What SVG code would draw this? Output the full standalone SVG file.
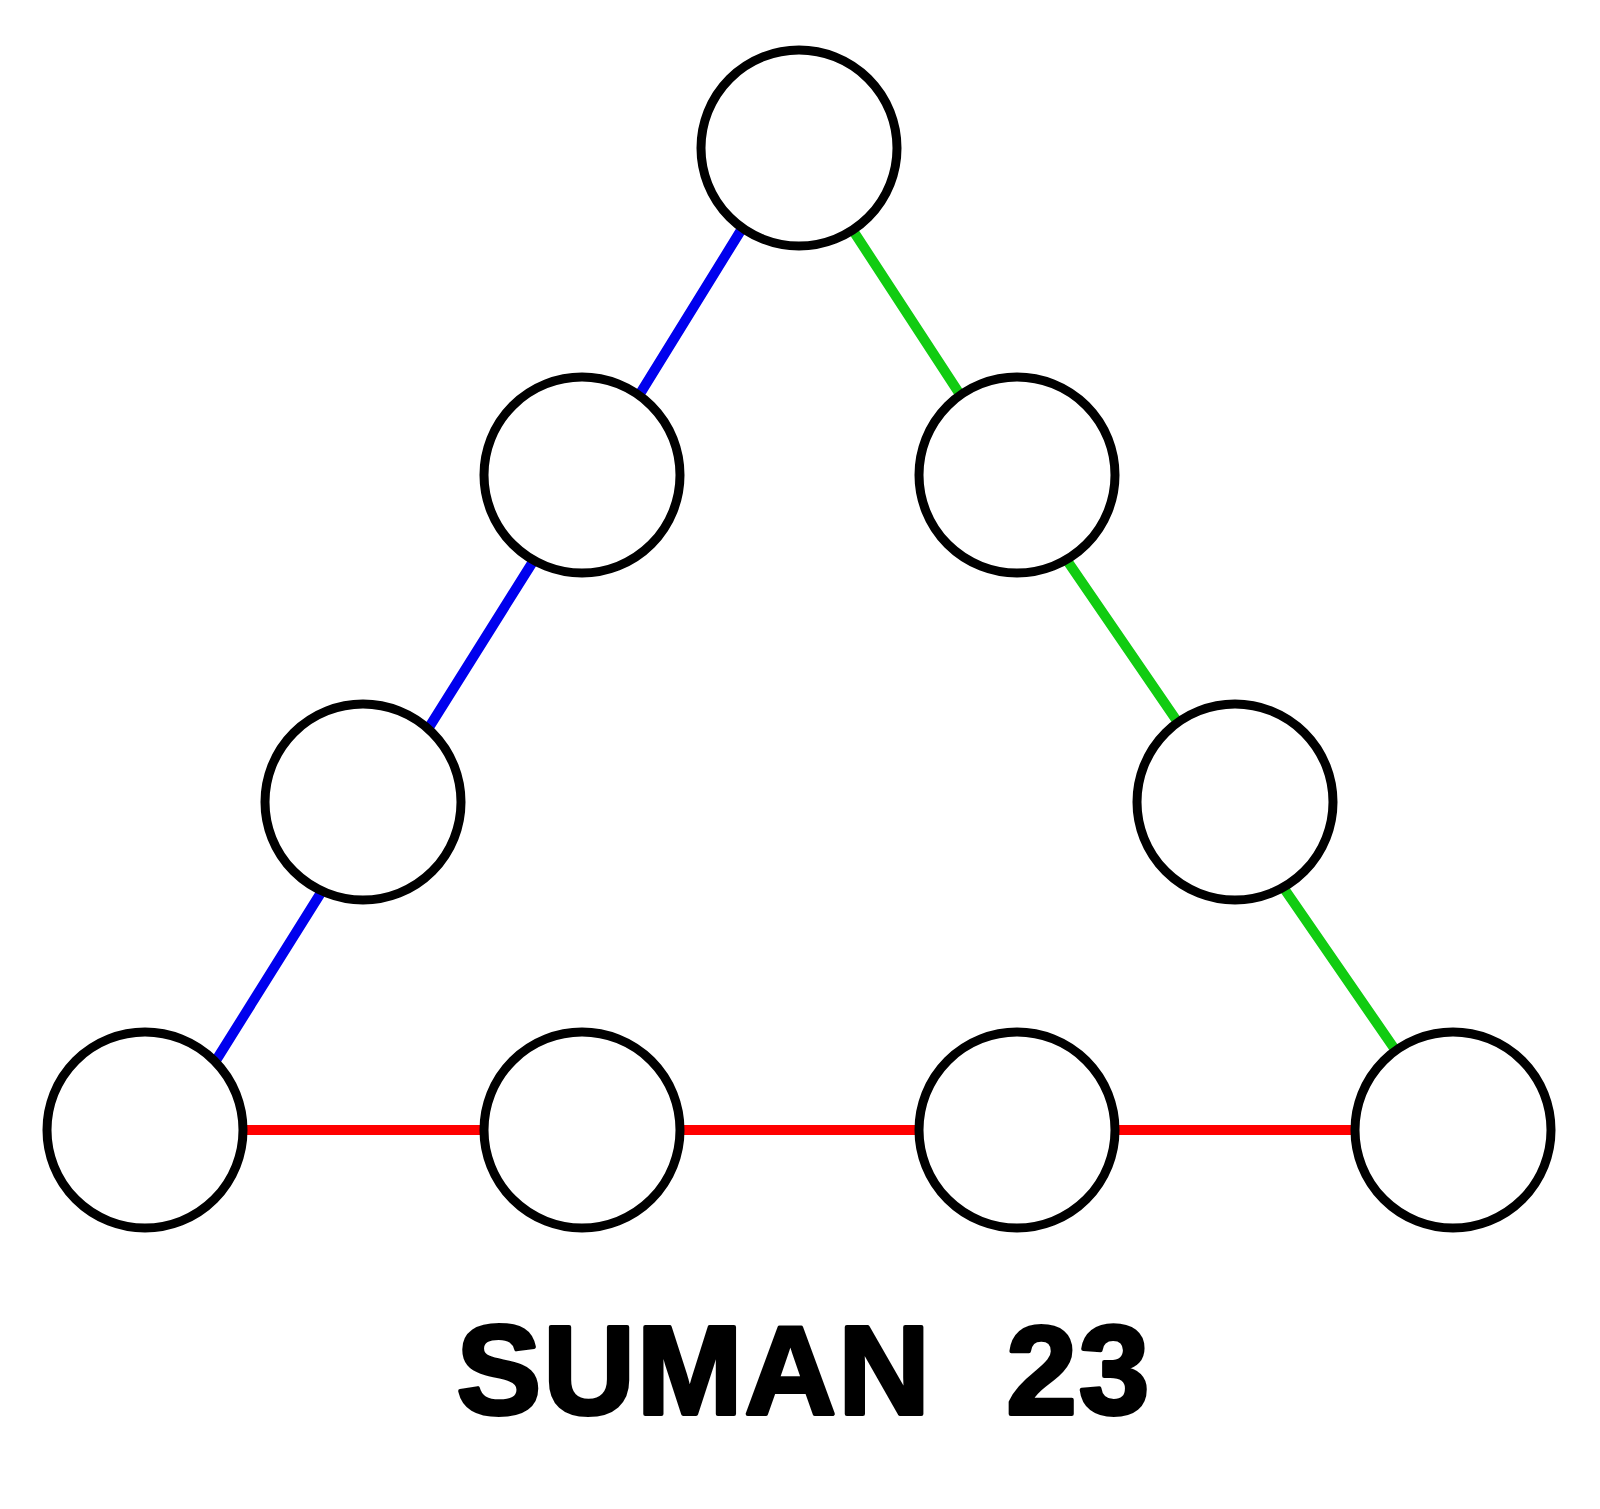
<svg xmlns="http://www.w3.org/2000/svg" width="1600" height="1509" viewBox="0 0 1600 1509">
<style>
.node{fill:#fff;stroke:#000;stroke-width:9}
.blue{stroke:#0000ee;stroke-width:10;stroke-linecap:round}
.green{stroke:#11cc11;stroke-width:10;stroke-linecap:round}
.red{stroke:#ff0000;stroke-width:10;stroke-linecap:round}
.label{font-family:"Liberation Sans",Arial,sans-serif;font-weight:bold;font-size:127px;fill:#000;stroke:#000;stroke-width:4;stroke-linejoin:round}
</style>
<rect width="1600" height="1509" fill="#fff"/>
<g id="connectors">
<line class="blue" x1="743" y1="227" x2="638" y2="397"/>
<line class="blue" x1="534" y1="560" x2="428" y2="729"/>
<line class="blue" x1="322" y1="891" x2="215" y2="1062"/>
<line class="green" x1="852" y1="229" x2="961" y2="396"/>
<line class="green" x1="1066" y1="559" x2="1179" y2="724"/>
<line class="green" x1="1283" y1="887" x2="1396" y2="1051"/>
<line class="red" x1="241" y1="1130" x2="485" y2="1130"/>
<line class="red" x1="678" y1="1130" x2="920" y2="1130"/>
<line class="red" x1="1112" y1="1130" x2="1357" y2="1130"/>
</g>
<g id="n1"><circle class="node" cx="799" cy="148" r="98"/></g>
<g id="n2"><circle class="node" cx="582" cy="475" r="98"/></g>
<g id="n3"><circle class="node" cx="1017" cy="475" r="98"/></g>
<g id="n4"><circle class="node" cx="363" cy="802" r="98"/></g>
<g id="n5"><circle class="node" cx="1235" cy="802" r="98"/></g>
<g id="n6"><circle class="node" cx="145" cy="1130" r="98"/></g>
<g id="n7"><circle class="node" cx="582" cy="1130" r="98"/></g>
<g id="n8"><circle class="node" cx="1017" cy="1130" r="98"/></g>
<g id="n9"><circle class="node" cx="1453" cy="1130" r="98"/></g>
<text class="label" x="803" y="1414" text-anchor="middle" xml:space="preserve" textLength="693" lengthAdjust="spacing">SUMAN  23</text>
</svg>
